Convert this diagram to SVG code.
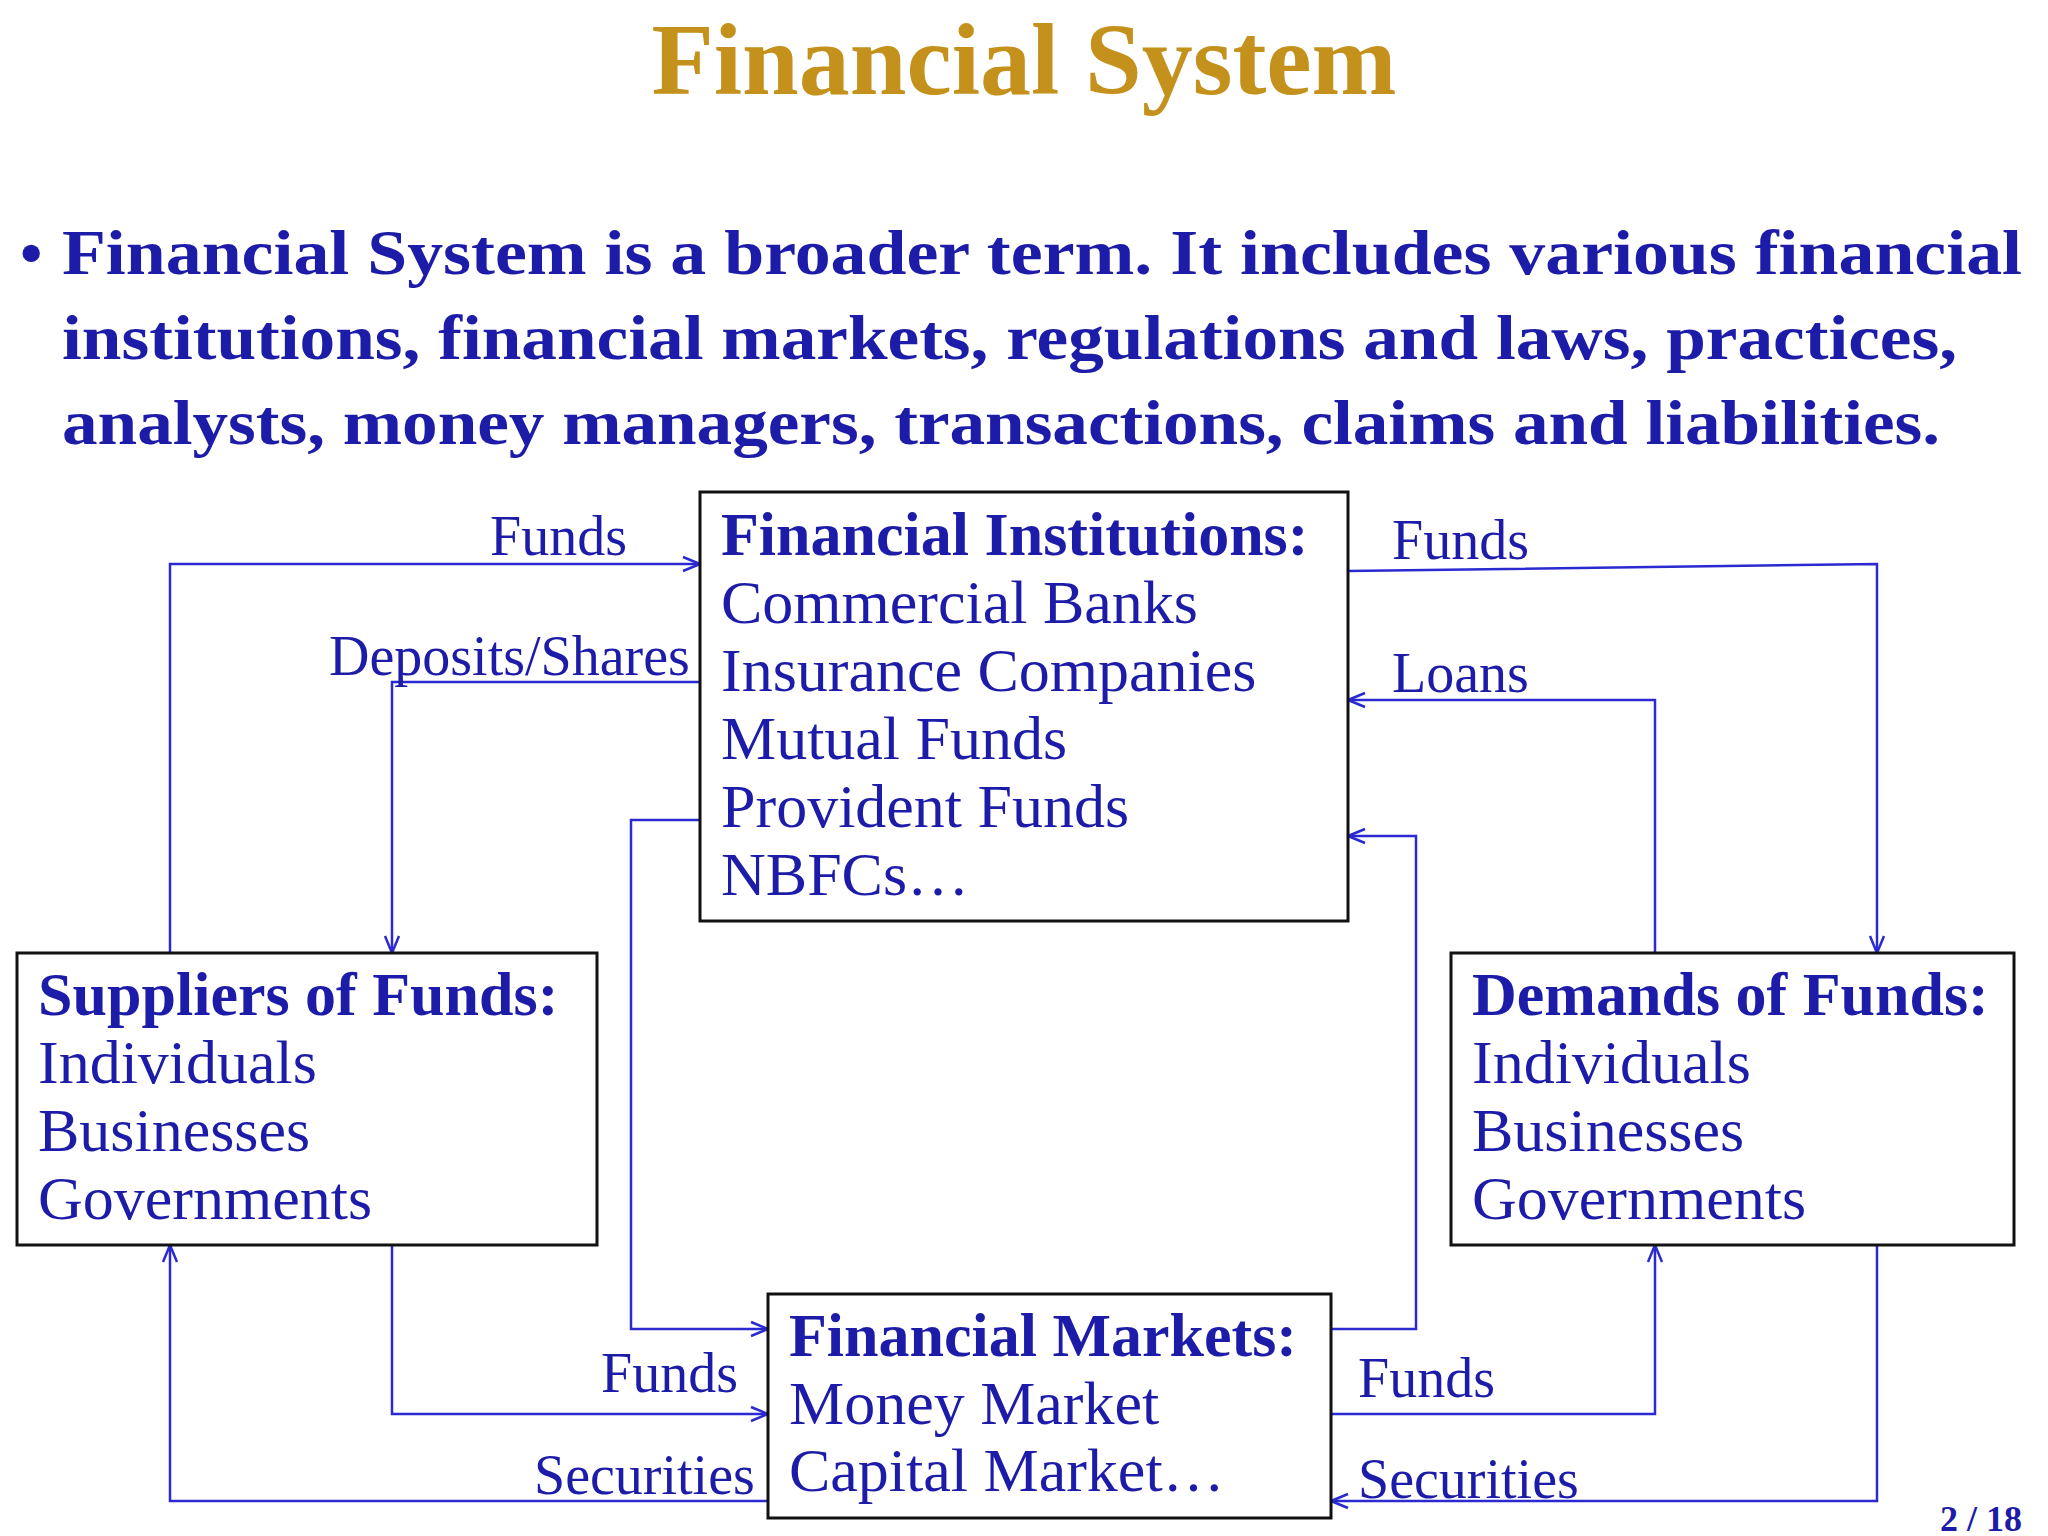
<svg xmlns="http://www.w3.org/2000/svg" width="2048" height="1536" viewBox="0 0 2048 1536">
<style>
.t{font-family:"Liberation Serif",serif;fill:#1c1ca8}
.h{font-weight:bold}
.box{fill:#fff;stroke:#111;stroke-width:3}
.c path{fill:none;stroke:#2a2ad0;stroke-width:2.5;marker-end:url(#a)}
.bx{font-size:62px}
.lb{font-size:56px}
</style>
<defs><marker id="a" viewBox="0 0 20 20" refX="19" refY="10" markerWidth="20" markerHeight="20" markerUnits="userSpaceOnUse" orient="auto"><path d="M2,3 L19,10 L2,17" fill="none" stroke="#2a2ad0" stroke-width="2.5"/></marker></defs>
<rect width="2048" height="1536" fill="#fff"/>
<text x="1024" y="94" text-anchor="middle" font-family="Liberation Serif,serif" font-weight="bold" font-size="102" fill="#c4921c">Financial System</text>
<g class="t h" font-size="64">
<text x="20" y="274">•</text>
<text x="62" y="274" textLength="1960" lengthAdjust="spacingAndGlyphs">Financial System is a broader term.  It includes various financial</text>
<text x="62" y="359" textLength="1895" lengthAdjust="spacingAndGlyphs">institutions, financial markets, regulations and laws, practices,</text>
<text x="62" y="444" textLength="1878" lengthAdjust="spacingAndGlyphs">analysts, money managers, transactions, claims and liabilities.</text>
</g>
<g class="c" id="connectors">
<path d="M170,953 V564 H700"/>
<path d="M700,682 H392 V953"/>
<path d="M700,820 H631 V1329 H768"/>
<path d="M1348,571 L1877,564 V953"/>
<path d="M1655,953 V700 H1348"/>
<path d="M1331,1329 H1416 V836 H1348"/>
<path d="M392,1245 V1414 H768"/>
<path d="M768,1501 H170 V1245"/>
<path d="M1331,1414 H1655 V1245"/>
<path d="M1877,1245 V1501 H1331"/>
</g>
<g class="t lb">
<text x="490" y="555">Funds</text>
<text x="329" y="675">Deposits/Shares</text>
<text x="1392" y="559">Funds</text>
<text x="1392" y="692">Loans</text>
<text x="601" y="1392">Funds</text>
<text x="534" y="1494">Securities</text>
<text x="1358" y="1397">Funds</text>
<text x="1358" y="1498">Securities</text>
</g>
<g id="fi"><rect class="box" x="700" y="492" width="648" height="429"/>
<g class="t bx"><text x="721" y="555" class="h">Financial Institutions:</text><text x="721" y="623">Commercial Banks</text><text x="721" y="691">Insurance Companies</text><text x="721" y="759">Mutual Funds</text><text x="721" y="827">Provident Funds</text><text x="721" y="895">NBFCs…</text></g></g>
<g id="suppliers"><rect class="box" x="17" y="953" width="580" height="292"/>
<g class="t bx"><text x="38" y="1015" class="h">Suppliers of Funds:</text><text x="38" y="1083">Individuals</text><text x="38" y="1151">Businesses</text><text x="38" y="1219">Governments</text></g></g>
<g id="demands"><rect class="box" x="1451" y="953" width="563" height="292"/>
<g class="t bx"><text x="1472" y="1015" class="h">Demands of Funds:</text><text x="1472" y="1083">Individuals</text><text x="1472" y="1151">Businesses</text><text x="1472" y="1219">Governments</text></g></g>
<g id="markets"><rect class="box" x="768" y="1294" width="563" height="224"/>
<g class="t bx"><text x="789" y="1356" class="h">Financial Markets:</text><text x="789" y="1424">Money Market</text><text x="789" y="1491">Capital Market…</text></g></g>
<text x="2022" y="1531" text-anchor="end" class="t h" font-size="36">2 / 18</text>
</svg>
